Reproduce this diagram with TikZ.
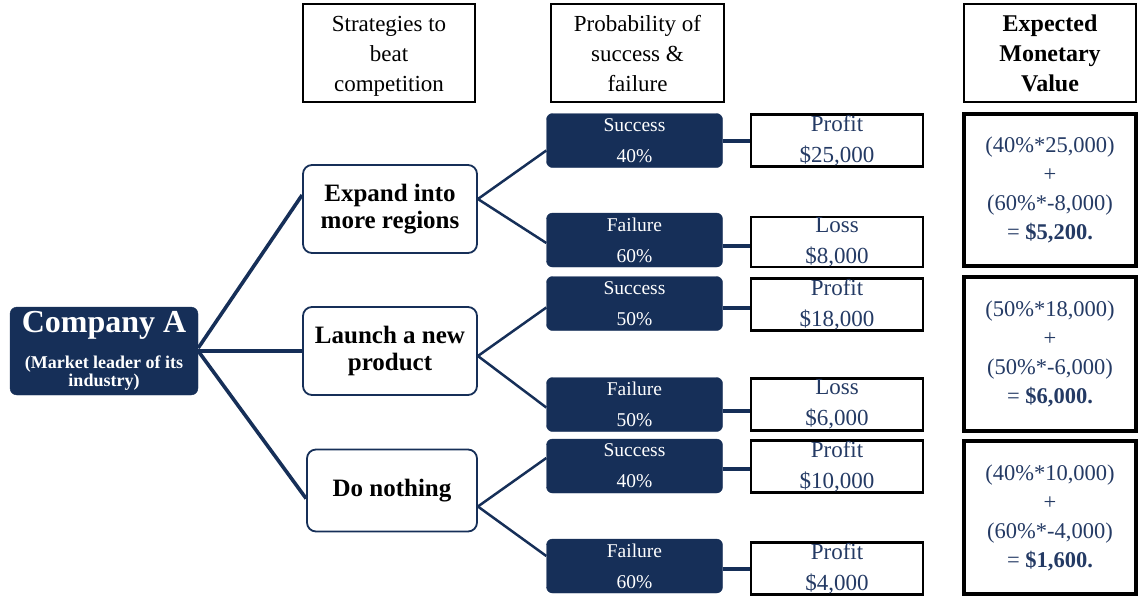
\documentclass[tikz,border=0pt]{standalone}
\usepackage{fontspec}
\setmainfont{Liberation Serif}
\usepackage{tikz}
\definecolor{navy}{RGB}{22,47,88}
\definecolor{inkblue}{RGB}{36,58,100}
\tikzset{
  head/.style={draw=black,line width=1.8pt,align=center,font=\fontsize{23}{30}\selectfont,inner sep=0pt,text height=76pt,text depth=0pt},
  rootbox/.style={fill=navy,draw=navy,rounded corners=7pt,text=white,align=center,inner sep=0pt,font=\bfseries\fontsize{18}{18}\selectfont},
  strat/.style={draw=navy,line width=1.8pt,rounded corners=9pt,align=center,font=\bfseries\fontsize{25}{27}\selectfont,inner sep=0pt,minimum width=174pt},
  prob/.style={fill=navy,draw=navy,rounded corners=6pt,text=white,align=center,font=\fontsize{19.5}{31}\selectfont,inner sep=0pt,minimum width=176pt,minimum height=54pt},
  outc/.style={draw=black,line width=2.4pt,text=inkblue,align=center,font=\fontsize{23}{31}\selectfont,inner sep=0pt,minimum width=172pt,minimum height=52pt},
  emv/.style={draw=black,line width=4.5pt,text=inkblue,align=center,font=\fontsize{22.5}{29}\selectfont,inner sep=0pt,minimum width=172pt,minimum height=152pt},
  trunk/.style={draw=navy,line width=3.6pt},
  twig/.style={draw=navy,line width=2.5pt},
  stub/.style={draw=navy,line width=4pt}
}
\begin{document}
\begin{tikzpicture}[x=1pt,y=-1pt]
\useasboundingbox (0,0) rectangle (1139,614);
% column headings
\node[head,minimum width=172pt,minimum height=98pt] (hstrat) at (389,53) {Strategies to\\beat\\competition};
\node[head,minimum width=173pt,minimum height=98pt] (hprob) at (637.5,53) {Probability of\\success \&\\failure};
\node[head,minimum width=172pt,minimum height=98pt,font=\bfseries\fontsize{24}{30}\selectfont] (hemv) at (1050,53) {Expected\\Monetary\\Value};
% root
\node[rootbox,minimum width=188pt,minimum height=88pt] (comp) at (104,351) {{\fontsize{32}{32}\selectfont Company A}\\[15pt](Market leader of its\\industry)};
% strategies
\node[strat,minimum height=88pt] (expand) at (390,209) {Expand into\\more regions};
\node[strat,minimum height=88pt] (launch) at (390,351) {Launch a new\\product};
\node[strat,minimum width=170pt,minimum height=82pt] (nothing) at (392,490.5) {Do nothing};
% probabilities
\node[prob] (expS) at (634.5,140.5) {Success\\40\%};
\node[prob] (expF) at (634.5,240) {Failure\\60\%};
\node[prob] (lauS) at (634.5,303.5) {Success\\50\%};
\node[prob] (lauF) at (634.5,404.5) {Failure\\50\%};
\node[prob] (notS) at (634.5,466) {Success\\40\%};
\node[prob] (notF) at (634.5,566) {Failure\\60\%};
% outcomes
\node[outc] (expP) at (837,140.5) {Profit\\\$25,000};
\node[outc,minimum height=50pt] (expL) at (837,242) {Loss\\\$8,000};
\node[outc] (lauP) at (837,304.5) {Profit\\\$18,000};
\node[outc] (lauL) at (837,404.5) {Loss\\\$6,000};
\node[outc] (notP) at (837,466.5) {Profit\\\$10,000};
\node[outc] (notQ) at (837,568.5) {Profit\\\$4,000};
% expected monetary values
\node[emv] (emvA) at (1050,190) {(40\%*25,000)\\+\\(60\%*-8,000)\\= \textbf{\$5,200.}};
\node[emv,minimum height=154pt] (emvB) at (1050,354) {(50\%*18,000)\\+\\(50\%*-6,000)\\= \textbf{\$6,000.}};
\node[emv,minimum height=153pt] (emvC) at (1050,517.5) {(40\%*10,000)\\+\\(60\%*-4,000)\\= \textbf{\$1,600.}};
% branches
\draw[trunk] ([yshift=3pt]comp.east) -- ([yshift=14pt]expand.west);
\draw[trunk] (comp.east) -- (launch.west);
\draw[trunk] (comp.east) -- ([yshift=-8pt]nothing.west);
\draw[twig] ([yshift=10pt]expand.east) -- ([yshift=-10pt]expS.west);
\draw[twig] ([yshift=10pt]expand.east) -- ([yshift=-3pt]expF.west);
\draw[twig] ([yshift=-5pt]launch.east) -- ([yshift=-4pt]lauS.west);
\draw[twig] ([yshift=-5pt]launch.east) -- ([yshift=-3pt]lauF.west);
\draw[twig] ([yshift=-16pt]nothing.east) -- ([yshift=8pt]notS.west);
\draw[twig] ([yshift=-16pt]nothing.east) -- ([yshift=10pt]notF.west);
\draw[stub] (expS.east) -- (expS.east -| expP.west);
\draw[stub] ([yshift=-6pt]expF.east) -- ([yshift=-6pt]expF.east -| expL.west);
\draw[stub] ([yshift=-4pt]lauS.east) -- ([yshift=-4pt]lauS.east -| lauP.west);
\draw[stub] ([yshift=-6pt]lauF.east) -- ([yshift=-6pt]lauF.east -| lauL.west);
\draw[stub] ([yshift=-3pt]notS.east) -- ([yshift=-3pt]notS.east -| notP.west);
\draw[stub] ([yshift=-3pt]notF.east) -- ([yshift=-3pt]notF.east -| notQ.west);
\end{tikzpicture}
\end{document}
